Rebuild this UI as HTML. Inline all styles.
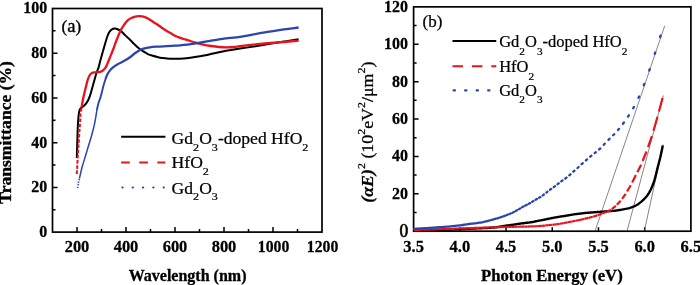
<!DOCTYPE html><html><head><meta charset="utf-8"><style>html,body{margin:0;padding:0;background:#fff;}svg{display:block;}text{font-family:"Liberation Serif","Times New Roman",serif;}</style></head><body>
<svg width="700" height="285" viewBox="0 0 700 285">
<rect width="700" height="285" fill="#fff"/>
<g fill="none" stroke="#000" stroke-width="1.7" stroke-linejoin="miter" stroke-linecap="square">
<rect x="52.50" y="8.50" width="269.50" height="223.60"/>
<rect x="413.60" y="6.85" width="277.30" height="224.35"/>
</g>
<path d="M77.00 232.10V227.10 M101.50 232.10V229.10 M126.00 232.10V227.10 M150.50 232.10V229.10 M175.00 232.10V227.10 M199.50 232.10V229.10 M224.00 232.10V227.10 M248.50 232.10V229.10 M273.00 232.10V227.10 M297.50 232.10V229.10 M52.50 209.74H55.50 M52.50 187.38H57.50 M52.50 165.02H55.50 M52.50 142.66H57.50 M52.50 120.30H55.50 M52.50 97.94H57.50 M52.50 75.58H55.50 M52.50 53.22H57.50 M52.50 30.86H55.50 M459.82 231.20V227.20 M506.03 231.20V227.20 M552.25 231.20V227.20 M598.47 231.20V227.20 M644.68 231.20V227.20 M413.60 212.50H416.60 M413.60 193.81H418.60 M413.60 175.11H416.60 M413.60 156.42H418.60 M413.60 137.72H416.60 M413.60 119.02H418.60 M413.60 100.33H416.60 M413.60 81.63H418.60 M413.60 62.94H416.60 M413.60 44.24H418.60 M413.60 25.55H416.60" stroke="#000" stroke-width="1.5" fill="none"/>
<g font-size="16" font-weight="bold" fill="#000" stroke="#000" stroke-width="0.25">
<text transform="translate(77.00,251.7) scale(1.030,1.070)" text-anchor="middle">200</text>
<text transform="translate(126.00,251.7) scale(1.030,1.070)" text-anchor="middle">400</text>
<text transform="translate(175.00,251.7) scale(1.030,1.070)" text-anchor="middle">600</text>
<text transform="translate(224.00,251.7) scale(1.030,1.070)" text-anchor="middle">800</text>
<text transform="translate(273.60,251.7) scale(0.985,1.070)" text-anchor="middle">1000</text>
<text transform="translate(322.60,251.7) scale(0.985,1.070)" text-anchor="middle">1200</text>
<text transform="translate(413.60,251.7) scale(1.030,1.070)" text-anchor="middle">3.5</text>
<text transform="translate(459.82,251.7) scale(1.030,1.070)" text-anchor="middle">4.0</text>
<text transform="translate(506.03,251.7) scale(1.030,1.070)" text-anchor="middle">4.5</text>
<text transform="translate(552.25,251.7) scale(1.030,1.070)" text-anchor="middle">5.0</text>
<text transform="translate(598.47,251.7) scale(1.030,1.070)" text-anchor="middle">5.5</text>
<text transform="translate(644.68,251.7) scale(1.030,1.070)" text-anchor="middle">6.0</text>
<text transform="translate(690.90,251.7) scale(1.030,1.070)" text-anchor="middle">6.5</text>
<text transform="translate(47.2,237.00) scale(1.000,1.110)" text-anchor="end">0</text>
<text transform="translate(47.2,192.28) scale(1.000,1.110)" text-anchor="end">20</text>
<text transform="translate(47.2,147.56) scale(1.000,1.110)" text-anchor="end">40</text>
<text transform="translate(47.2,102.84) scale(1.000,1.110)" text-anchor="end">60</text>
<text transform="translate(47.2,58.12) scale(1.000,1.110)" text-anchor="end">80</text>
<text transform="translate(47.2,13.40) scale(1.000,1.110)" text-anchor="end">100</text>
<text transform="translate(408,198.71) scale(1.000,1.110)" text-anchor="end">20</text>
<text transform="translate(408,161.32) scale(1.000,1.110)" text-anchor="end">40</text>
<text transform="translate(408,123.92) scale(1.000,1.110)" text-anchor="end">60</text>
<text transform="translate(408,86.53) scale(1.000,1.110)" text-anchor="end">80</text>
<text transform="translate(408,49.14) scale(1.000,1.110)" text-anchor="end">100</text>
<text transform="translate(408,11.75) scale(1.000,1.110)" text-anchor="end">120</text>
<text transform="translate(408.3,237.1) scale(1.06,1.14)" text-anchor="end" font-weight="normal" font-size="16.5" stroke-width="0.6">0</text>
</g>
<text x="187.6" y="280.7" font-size="16" font-weight="bold" text-anchor="middle" stroke="#000" stroke-width="0.3">Wavelength (nm)</text>
<text transform="translate(551.9,280.8) scale(1.042,1)" x="0" y="0" font-size="16" font-weight="bold" text-anchor="middle" stroke="#000" stroke-width="0.3">Photon Energy (eV)</text>
<text transform="translate(11.3,132.4) rotate(-90) scale(1.10,1)" font-size="16" font-weight="bold" text-anchor="middle" stroke="#000" stroke-width="0.3">Transmittance (%)</text>
<text transform="translate(372.8,132.2) rotate(-90) scale(1.084,1)" font-size="16.5" text-anchor="middle" stroke="#000" stroke-width="0.25"><tspan font-weight="bold" font-style="italic">(αE)</tspan><tspan font-size="11" dy="-7.5">2</tspan><tspan dy="7.5"> (10</tspan><tspan font-size="11" dy="-7.5">2</tspan><tspan dy="7.5">eV</tspan><tspan font-size="11" dy="-7.5">2</tspan><tspan dy="7.5">/μm</tspan><tspan font-size="11" dy="-7.5">2</tspan><tspan dy="7.5">)</tspan></text>
<text x="61.5" y="32" font-size="17" stroke="#000" stroke-width="0.35">(<tspan font-size="18.6">a</tspan>)</text>
<text x="422.5" y="27" font-size="17" stroke="#000" stroke-width="0.25">(b)</text>
<path d="M121.10 136.80H165.40" stroke="#000" stroke-width="2"/>
<path d="M121.10 162.40H165.40" stroke="#e8141c" stroke-width="2" stroke-dasharray="8.7 9.4"/>
<path d="M122.35 187.50h0.30 M132.65 187.50h0.30 M142.95 187.50h0.30 M153.25 187.50h0.30 M163.55 187.50h0.30" stroke="#2b45b0" stroke-width="2.00" stroke-linecap="round"/>
<text transform="translate(171.60,143.90) scale(1.100,1)" x="0" y="0" font-size="16" stroke="#000" stroke-width="0.22">Gd<tspan font-size="11" dy="6.6">2</tspan><tspan dy="-6.6">O</tspan><tspan font-size="11" dy="6.6">3</tspan><tspan dy="-6.6">-doped HfO</tspan><tspan font-size="11" dy="6.6">2</tspan></text>
<text transform="translate(171.60,168.00) scale(1.100,1)" x="0" y="0" font-size="16" stroke="#000" stroke-width="0.22">HfO<tspan font-size="11" dy="6.6">2</tspan></text>
<text transform="translate(171.60,193.80) scale(1.100,1)" x="0" y="0" font-size="16" stroke="#000" stroke-width="0.22">Gd<tspan font-size="11" dy="6.6">2</tspan><tspan dy="-6.6">O</tspan><tspan font-size="11" dy="6.6">3</tspan></text>
<path d="M452.50 41.10H496.30" stroke="#000" stroke-width="2"/>
<path d="M452.50 66.20H496.30" stroke="#e8141c" stroke-width="2" stroke-dasharray="10.5 8.9"/>
<path d="M453.60 90.40h1.40 M465.10 90.40h1.40 M476.60 90.40h1.40 M488.10 90.40h1.40" stroke="#2b45b0" stroke-width="2.10" stroke-linecap="round"/>
<text transform="translate(499.20,47.20) scale(1.030,1)" x="0" y="0" font-size="16" stroke="#000" stroke-width="0.22">Gd<tspan font-size="11" dy="7.3">2</tspan><tspan dy="-7.3">O</tspan><tspan font-size="11" dy="7.3">3</tspan><tspan dy="-7.3">-doped HfO</tspan><tspan font-size="11" dy="7.3">2</tspan></text>
<text transform="translate(499.20,72.30) scale(1.030,1)" x="0" y="0" font-size="16" stroke="#000" stroke-width="0.22">HfO<tspan font-size="11" dy="7.3">2</tspan></text>
<text transform="translate(499.20,95.80) scale(1.030,1)" x="0" y="0" font-size="16" stroke="#000" stroke-width="0.22">Gd<tspan font-size="11" dy="7.3">2</tspan><tspan dy="-7.3">O</tspan><tspan font-size="11" dy="7.3">3</tspan></text>
<g fill="none" stroke-width="2" stroke-linejoin="round" stroke-linecap="butt">
<path d="M76.80 158.00 C76.85 156.33 76.98 151.83 77.10 148.00 C77.22 144.17 77.37 138.90 77.50 135.00 C77.63 131.10 77.73 127.68 77.90 124.60 C78.07 121.52 78.27 118.73 78.50 116.50 C78.73 114.27 78.98 112.52 79.30 111.20 C79.62 109.88 79.95 109.27 80.40 108.60 C80.85 107.93 81.40 107.67 82.00 107.20 C82.60 106.73 83.33 106.40 84.00 105.80 C84.67 105.20 85.33 104.48 86.00 103.60 C86.67 102.72 87.32 101.87 88.00 100.50 C88.68 99.13 89.40 97.48 90.10 95.40 C90.80 93.32 91.50 90.48 92.20 88.00 C92.90 85.52 93.62 82.92 94.30 80.50 C94.98 78.08 95.60 75.65 96.30 73.50 C97.00 71.35 97.88 69.55 98.50 67.60 C99.12 65.65 99.43 63.92 100.00 61.80 C100.57 59.68 101.25 57.20 101.90 54.90 C102.55 52.60 103.28 50.15 103.90 48.00 C104.52 45.85 105.03 43.92 105.60 42.00 C106.17 40.08 106.70 38.13 107.30 36.50 C107.90 34.87 108.50 33.35 109.20 32.20 C109.90 31.05 110.58 30.20 111.50 29.60 C112.42 29.00 113.58 28.62 114.70 28.60 C115.82 28.58 117.02 28.97 118.20 29.50 C119.38 30.03 120.62 30.82 121.80 31.80 C122.98 32.78 123.93 34.07 125.30 35.40 C126.67 36.73 128.45 38.30 130.00 39.80 C131.55 41.30 133.08 42.95 134.60 44.40 C136.12 45.85 137.58 47.28 139.10 48.50 C140.62 49.72 142.17 50.73 143.70 51.70 C145.23 52.67 146.78 53.62 148.30 54.30 C149.82 54.98 151.28 55.35 152.80 55.80 C154.32 56.25 155.87 56.65 157.40 57.00 C158.93 57.35 159.90 57.62 162.00 57.90 C164.10 58.18 166.33 58.62 170.00 58.70 C173.67 58.78 179.33 58.75 184.00 58.40 C188.67 58.05 193.33 57.37 198.00 56.60 C202.67 55.83 207.33 54.78 212.00 53.80 C216.67 52.82 221.33 51.57 226.00 50.70 C230.67 49.83 234.32 49.47 240.00 48.60 C245.68 47.73 253.83 46.52 260.10 45.50 C266.37 44.48 271.18 43.55 277.60 42.50 C284.02 41.45 295.10 39.75 298.60 39.20" stroke="#000"/>
<path d="M76.80 174.00 C76.88 172.50 77.12 168.33 77.30 165.00 C77.48 161.67 77.70 157.33 77.90 154.00 C78.10 150.67 78.28 148.17 78.50 145.00 C78.72 141.83 79.00 137.83 79.20 135.00 C79.40 132.17 79.55 130.17 79.70 128.00 C79.85 125.83 79.95 124.42 80.10 122.00 C80.25 119.58 80.35 115.93 80.60 113.50 C80.85 111.07 81.43 108.42 81.60 107.40" stroke="#e8141c" stroke-dasharray="3.6 1.6"/>
<path d="M81.60 107.40 C81.75 106.50 82.13 104.00 82.50 102.00 C82.87 100.00 83.23 97.90 83.80 95.40 C84.37 92.90 85.25 89.60 85.90 87.00 C86.55 84.40 87.10 81.72 87.70 79.80 C88.30 77.88 88.80 76.63 89.50 75.50 C90.20 74.37 90.92 73.53 91.90 73.00 C92.88 72.47 94.38 72.45 95.40 72.30 C96.42 72.15 97.08 72.22 98.00 72.10 C98.92 71.98 100.00 71.93 100.90 71.60 C101.80 71.27 102.57 70.83 103.40 70.10 C104.23 69.37 105.17 68.43 105.90 67.20 C106.63 65.97 107.15 64.27 107.80 62.70 C108.45 61.13 109.13 59.43 109.80 57.80 C110.47 56.17 111.15 54.53 111.80 52.90 C112.45 51.27 112.87 50.23 113.70 48.00 C114.53 45.77 115.68 42.33 116.80 39.50 C117.92 36.67 119.37 33.17 120.40 31.00 C121.43 28.83 122.13 27.87 123.00 26.50 C123.87 25.13 124.73 23.90 125.60 22.80 C126.47 21.70 127.30 20.67 128.20 19.90 C129.10 19.13 129.95 18.72 131.00 18.20 C132.05 17.68 133.27 17.15 134.50 16.80 C135.73 16.45 137.15 16.18 138.40 16.10 C139.65 16.02 140.90 16.12 142.00 16.30 C143.10 16.48 144.02 16.83 145.00 17.20 C145.98 17.57 146.77 17.87 147.90 18.50 C149.03 19.13 150.48 20.17 151.80 21.00 C153.12 21.83 154.47 22.62 155.80 23.50 C157.13 24.38 158.48 25.38 159.80 26.30 C161.12 27.22 162.40 28.13 163.70 29.00 C165.00 29.87 166.28 30.72 167.60 31.50 C168.92 32.28 170.28 32.95 171.60 33.70 C172.92 34.45 174.18 35.33 175.50 36.00 C176.82 36.67 178.17 37.20 179.50 37.70 C180.83 38.20 182.18 38.60 183.50 39.00 C184.82 39.40 185.43 39.52 187.40 40.10 C189.37 40.68 192.67 41.75 195.30 42.50 C197.93 43.25 200.57 44.02 203.20 44.60 C205.83 45.18 208.47 45.60 211.10 46.00 C213.73 46.40 216.37 46.77 219.00 47.00 C221.63 47.23 224.27 47.40 226.90 47.40 C229.53 47.40 232.62 47.20 234.80 47.00 C236.98 46.80 235.78 46.72 240.00 46.20 C244.22 45.68 253.83 44.52 260.10 43.90 C266.37 43.28 271.18 43.03 277.60 42.50 C284.02 41.97 295.10 41.00 298.60 40.70" stroke="#e8141c" stroke-width="2.3"/>
<path d="M77.60 188.00 C77.73 187.17 78.10 184.58 78.40 183.00 C78.70 181.42 79.23 179.25 79.40 178.50" stroke="#2b45b0" stroke-width="1.5" stroke-dasharray="1.4 1.2"/>
<path d="M79.40 178.50 C79.87 176.55 81.20 170.50 82.20 166.80 C83.20 163.10 84.35 159.80 85.40 156.30 C86.45 152.80 87.45 149.30 88.50 145.80 C89.55 142.30 90.65 139.17 91.70 135.30 C92.75 131.43 93.93 126.82 94.80 122.60 C95.67 118.38 96.55 112.10 96.90 110.00" stroke="#2b45b0" stroke-width="1.5"/>
<path d="M96.90 110.00 C97.17 108.83 97.87 105.20 98.50 103.00 C99.13 100.80 99.87 99.70 100.70 96.80 C101.53 93.90 102.70 88.57 103.50 85.60 C104.30 82.63 105.17 80.10 105.50 79.00" stroke="#2b45b0" stroke-width="1.9"/>
<path d="M105.50 79.00 C105.80 78.25 106.58 75.90 107.30 74.50 C108.02 73.10 108.90 71.75 109.80 70.60 C110.70 69.45 111.40 68.67 112.70 67.60 C114.00 66.53 115.73 65.28 117.60 64.20 C119.47 63.12 121.83 62.27 123.90 61.10 C125.97 59.93 128.22 58.47 130.00 57.20 C131.78 55.93 132.93 54.70 134.60 53.50 C136.27 52.30 138.48 50.82 140.00 50.00 C141.52 49.18 142.38 48.98 143.70 48.60 C145.02 48.22 145.88 48.02 147.90 47.70 C149.92 47.38 151.85 47.02 155.80 46.70 C159.75 46.38 167.57 46.03 171.60 45.80 C175.63 45.57 177.37 45.50 180.00 45.30 C182.63 45.10 185.07 44.88 187.40 44.60 C189.73 44.32 191.73 43.95 194.00 43.60 C196.27 43.25 198.33 42.95 201.00 42.50 C203.67 42.05 207.00 41.43 210.00 40.90 C213.00 40.37 215.67 39.80 219.00 39.30 C222.33 38.80 226.50 38.32 230.00 37.90 C233.50 37.48 234.98 37.58 240.00 36.80 C245.02 36.02 253.83 34.28 260.10 33.20 C266.37 32.12 271.18 31.25 277.60 30.30 C284.02 29.35 295.10 27.97 298.60 27.50" stroke="#2b45b0" stroke-width="2.3"/>
</g>
<g stroke="#444" stroke-width="0.65" fill="none">
<path d="M595.0 231.2L664.7 25.8"/>
<path d="M627.0 231.2L663.4 95.5"/>
<path d="M644.3 231.2L663.2 144.5"/>
</g>
<g fill="none" stroke-linecap="butt">
<path d="M662.80 145.50 L661.74 150.81 L660.32 157.27 L658.90 162.82 L657.50 168.13 L656.09 173.91 L654.70 179.34 L653.31 183.55 L651.93 187.09 L650.56 190.02 L649.19 192.56 L647.83 194.70 L646.48 196.48 L645.13 198.03 L643.79 199.41 L642.46 200.66 L641.13 201.82 L639.81 202.91 L638.49 203.91 L637.18 204.79 L635.88 205.52 L634.58 206.16 L633.29 206.74 L632.01 207.24 L630.73 207.68 L629.46 208.05 L628.19 208.36 L626.93 208.64 L625.68 208.88 L624.43 209.12 L623.19 209.35 L621.95 209.58 L620.72 209.81 L619.49 210.02 L618.27 210.22 L617.06 210.40 L615.85 210.56 L614.65 210.69 L613.45 210.82 L612.26 210.93 L611.07 211.03 L609.89 211.13 L608.71 211.22 L607.54 211.31 L606.38 211.40 L605.22 211.48 L604.06 211.57 L602.91 211.65 L601.77 211.73 L600.63 211.81 L599.49 211.88 L598.36 211.95 L597.24 212.03 L596.12 212.10 L595.01 212.18 L593.90 212.26 L592.79 212.35 L591.69 212.43 L590.60 212.52 L589.51 212.60 L588.42 212.69 L587.34 212.79 L586.26 212.88 L585.19 212.98 L584.12 213.09 L583.06 213.20 L582.00 213.32 L580.95 213.44 L579.90 213.57 L578.86 213.70 L577.82 213.84 L576.78 213.98 L575.75 214.12 L574.72 214.27 L573.70 214.42 L572.68 214.58 L571.67 214.75 L570.66 214.92 L569.65 215.10 L568.65 215.28 L567.66 215.45 L566.66 215.62 L565.67 215.79 L564.69 215.95 L563.71 216.10 L562.73 216.24 L561.76 216.38 L560.79 216.53 L559.83 216.67 L558.87 216.82 L557.91 216.98 L556.96 217.15 L556.01 217.33 L555.06 217.50 L554.12 217.69 L553.18 217.87 L552.25 218.05 L551.32 218.24 L550.39 218.42 L549.47 218.61 L548.55 218.79 L547.64 218.97 L546.73 219.15 L545.82 219.33 L544.91 219.52 L544.01 219.70 L543.12 219.88 L542.22 220.06 L541.33 220.24 L540.45 220.41 L539.56 220.59 L538.68 220.76 L537.81 220.94 L536.93 221.12 L536.07 221.29 L535.20 221.47 L534.34 221.64 L533.48 221.81 L532.62 221.97 L531.77 222.12 L530.92 222.26 L530.07 222.39 L529.23 222.51 L528.39 222.61 L527.55 222.71 L526.72 222.81 L525.89 222.90 L525.06 223.00 L524.24 223.09 L523.42 223.20 L522.60 223.31 L521.79 223.42 L520.98 223.54 L520.17 223.66 L519.36 223.79 L518.56 223.91 L517.76 224.03 L516.96 224.16 L516.17 224.28 L515.38 224.40 L514.59 224.51 L513.81 224.63 L513.03 224.74 L512.25 224.84 L511.47 224.95 L510.70 225.05 L509.93 225.16 L509.16 225.26 L508.39 225.36 L507.63 225.46 L506.87 225.56 L506.12 225.67 L505.36 225.78 L504.61 225.88 L503.86 226.00 L503.12 226.12 L502.38 226.25 L501.64 226.38 L500.90 226.52 L500.16 226.65 L499.43 226.78 L498.70 226.91 L497.97 227.03 L497.25 227.14 L496.53 227.24 L495.81 227.32 L495.09 227.39 L494.38 227.45 L493.67 227.51 L492.96 227.56 L492.25 227.62 L491.55 227.67 L490.84 227.71 L490.14 227.76 L489.45 227.80 L488.75 227.85 L488.06 227.89 L487.37 227.93 L486.68 227.97 L486.00 228.00 L485.32 228.04 L484.64 228.07 L483.96 228.10 L483.28 228.14 L482.61 228.17 L481.94 228.20 L481.27 228.23 L480.60 228.26 L479.94 228.28 L479.28 228.31 L478.62 228.34 L477.96 228.37 L477.30 228.39 L476.65 228.42 L476.00 228.45 L475.35 228.47 L474.71 228.50 L474.06 228.53 L473.42 228.55 L472.78 228.58 L472.14 228.61 L471.51 228.63 L470.87 228.66 L470.24 228.69 L469.61 228.72 L468.98 228.75 L468.36 228.77 L467.74 228.80 L467.11 228.83 L466.49 228.86 L465.88 228.88 L465.26 228.91 L464.65 228.94 L464.04 228.96 L463.43 228.99 L462.82 229.01 L462.22 229.04 L461.61 229.06 L461.01 229.09 L460.41 229.11 L459.82 229.14 L459.22 229.16 L458.63 229.19 L458.04 229.21 L457.45 229.23 L456.86 229.26 L456.27 229.28 L455.69 229.31 L455.11 229.33 L454.53 229.35 L453.95 229.37 L453.37 229.40 L452.80 229.42 L452.22 229.44 L451.65 229.46 L451.08 229.48 L450.52 229.51 L449.95 229.53 L449.39 229.55 L448.82 229.57 L448.26 229.59 L447.70 229.61 L447.15 229.63 L446.59 229.66 L446.04 229.68 L445.49 229.70 L444.94 229.72 L444.39 229.74 L443.84 229.76 L443.30 229.78 L442.75 229.80 L442.21 229.82 L441.67 229.84 L441.13 229.86 L440.60 229.88 L440.06 229.90 L439.53 229.92 L438.99 229.94 L438.46 229.96 L437.94 229.98 L437.41 229.99 L436.88 230.01 L436.36 230.03 L435.84 230.05 L435.32 230.07 L434.80 230.09 L434.28 230.11 L433.76 230.13 L433.25 230.14 L432.74 230.16 L432.22 230.18 L431.71 230.20 L431.21 230.22 L430.70 230.23 L430.19 230.25 L429.69 230.27 L429.19 230.29 L428.69 230.30 L428.19 230.32 L427.69 230.34 L427.19 230.35 L426.70 230.37 L426.20 230.39 L425.71 230.40 L425.22 230.42 L424.73 230.44 L424.24 230.45 L423.76 230.47 L423.27 230.49 L422.79 230.50 L422.31 230.52 L421.83 230.54 L421.35 230.55 L420.87 230.57 L420.39 230.58 L419.92 230.60 L419.44 230.61 L418.97 230.63 L418.50 230.64 L418.03 230.66 L417.56 230.67 L417.09 230.69 L416.63 230.70 L416.16 230.72 L415.70 230.73 L415.24 230.75 L414.78 230.76 L414.32 230.78 L413.86 230.79" stroke="#000" stroke-width="2.4" stroke-linejoin="round"/>
<path d="M662.60 97.90L658.93 111.42 M657.50 116.68L653.49 130.74 M651.93 136.20L648.01 147.22 M646.48 151.51L642.63 160.96 M641.13 164.64L637.35 172.13 M635.88 175.04L632.17 182.40 M630.73 185.26L627.09 191.45 M625.68 193.86L622.09 198.81 M620.72 200.71L616.83 204.84 M615.85 205.88L611.76 209.10 M611.07 209.64L606.83 211.70 M606.38 211.92L602.14 213.58 M601.77 213.73L597.57 215.25 M597.24 215.37L593.08 216.69 M592.79 216.78L588.67 217.88 M588.42 217.94L584.34 218.92 M584.12 218.97L580.10 219.86 M579.90 219.90L575.92 220.71 M575.75 220.75L571.84 221.52 M571.67 221.55L567.82 222.28 M567.66 222.31L563.87 223.01 M563.71 223.05L559.99 223.74 M559.83 223.77L556.17 224.30 M556.01 224.32L552.41 224.74 M552.25 224.76L548.71 225.13 M548.55 225.15L545.07 225.51 M544.91 225.53L541.48 225.85 M541.33 225.86L537.96 226.10 M537.81 226.11L534.48 226.31 M534.34 226.32L531.06 226.46 M530.92 226.47L527.70 226.56 M527.55 226.56L524.38 226.62 M524.24 226.63L521.11 226.68 M520.98 226.68L517.90 226.73 M517.76 226.73L514.73 226.79 M514.59 226.79L511.60 226.85 M511.47 226.86L508.52 226.93 M508.39 226.93L505.49 227.01 M505.36 227.01L502.50 227.09 M502.38 227.09L499.55 227.17 M499.43 227.17L496.65 227.25 M496.53 227.26L493.79 227.34 M493.67 227.34L490.96 227.42 M490.84 227.42L488.18 227.50 M488.06 227.50L485.43 227.58 M485.32 227.59L482.72 227.67 M482.61 227.67L480.05 227.76 M479.94 227.76L477.41 227.84 M477.30 227.85L474.81 227.93 M474.71 227.93L472.25 228.02 M472.14 228.02L469.72 228.11 M469.61 228.11L467.22 228.21 M467.11 228.21L464.75 228.31 M464.65 228.31L462.32 228.41 M462.22 228.42L459.92 228.52 M459.82 228.52L457.55 228.62 M457.45 228.62L455.20 228.71 M455.11 228.72L452.89 228.80 M452.80 228.80L450.61 228.88 M450.52 228.89L448.36 228.96 M448.26 228.97L446.13 229.04 M446.04 229.04L443.93 229.11 M443.84 229.12L441.76 229.18 M441.67 229.19L439.62 229.25 M439.53 229.25L437.50 229.31 M437.41 229.32L435.40 229.37 M435.32 229.38L433.34 229.43 M433.25 229.43L431.29 229.49 M431.21 229.49L429.27 229.54 M429.19 229.54L427.28 229.59 M427.19 229.59L425.30 229.64 M425.22 229.64L423.36 229.69 M423.27 229.69L421.43 229.73 M421.35 229.74L419.52 229.78 M419.44 229.78L417.64 229.82 M417.56 229.82L415.78 229.86 M415.70 229.86L413.94 229.89" stroke="#e8141c" stroke-width="2.2"/>
<path d="M660.53 35.67L660.08 37.10 M655.22 52.51L654.76 53.94 M649.72 69.14L649.23 70.56 M644.35 83.90L643.79 85.30 M639.08 96.53L638.46 97.89 M633.93 106.94L633.19 108.25 M628.88 115.33L628.04 116.57 M623.89 122.54L623.00 123.75 M619.02 128.87L618.04 130.02 M614.23 134.19L613.17 135.25 M609.51 138.79L608.41 139.81 M604.78 143.62L603.82 144.77 M600.30 148.50L599.16 149.47 M595.83 152.21L594.65 153.14 M591.41 155.71L590.24 156.66 M587.05 159.36L585.93 160.36 M582.78 163.19L581.67 164.20 M578.59 166.99L577.48 168.00 M574.47 170.70L573.35 171.70 M570.43 174.29L569.30 175.28 M566.48 177.57L565.27 178.46 M562.57 180.41L561.35 181.28 M558.69 183.28L557.52 184.22 M554.92 186.23L553.71 187.12 M551.20 188.93L549.97 189.79 M547.49 191.66L546.34 192.61 M543.91 194.52L542.70 195.41 M540.40 196.95L539.09 197.69 M536.89 198.97L535.60 199.75 M533.43 201.08L532.17 201.88 M530.07 203.12L528.74 203.82 M526.73 204.85L525.39 205.53 M523.43 206.56L522.11 207.29 M520.18 208.39L518.88 209.15 M516.98 210.27L515.69 211.04 M513.87 212.04L512.51 212.68 M510.78 213.46L509.39 214.03 M507.73 214.69L506.33 215.22 M504.72 215.81L503.31 216.32 M501.76 216.87L500.34 217.35 M498.84 217.84L497.41 218.28 M495.96 218.72L494.52 219.13 M493.12 219.53L491.67 219.93 M490.32 220.30L488.87 220.69 M487.55 221.03L486.10 221.38 M484.83 221.68L483.36 222.00 M482.14 222.26L480.67 222.53 M479.50 222.73L478.01 222.94 M476.88 223.09L475.39 223.27 M474.30 223.39L472.81 223.56 M471.75 223.68L470.26 223.87 M469.23 224.01L467.75 224.23 M466.75 224.38L465.26 224.61 M464.30 224.76L462.81 224.99 M461.88 225.13L460.39 225.33 M459.50 225.45L458.01 225.62 M457.14 225.72L455.65 225.88 M454.81 225.97L453.32 226.12 M452.52 226.19L451.02 226.33 M450.25 226.40L448.75 226.53 M448.01 226.60L446.51 226.72 M445.80 226.78L444.30 226.90 M443.61 226.95L442.12 227.07 M441.45 227.12L439.96 227.22 M439.32 227.27L437.83 227.37 M437.22 227.42L435.72 227.52 M435.13 227.56L433.64 227.66 M433.08 227.69L431.58 227.79 M431.05 227.83L429.55 227.93 M429.04 227.96L427.54 228.06 M427.05 228.09L425.56 228.18 M425.09 228.21L423.60 228.31 M423.16 228.33L421.66 228.43 M421.24 228.45L419.74 228.54 M419.35 228.57L417.85 228.65 M417.47 228.68L415.98 228.76 M415.62 228.78L414.12 228.87" stroke="#2b45b0" stroke-width="2.3" stroke-linecap="round"/>
</g>
</svg></body></html>
